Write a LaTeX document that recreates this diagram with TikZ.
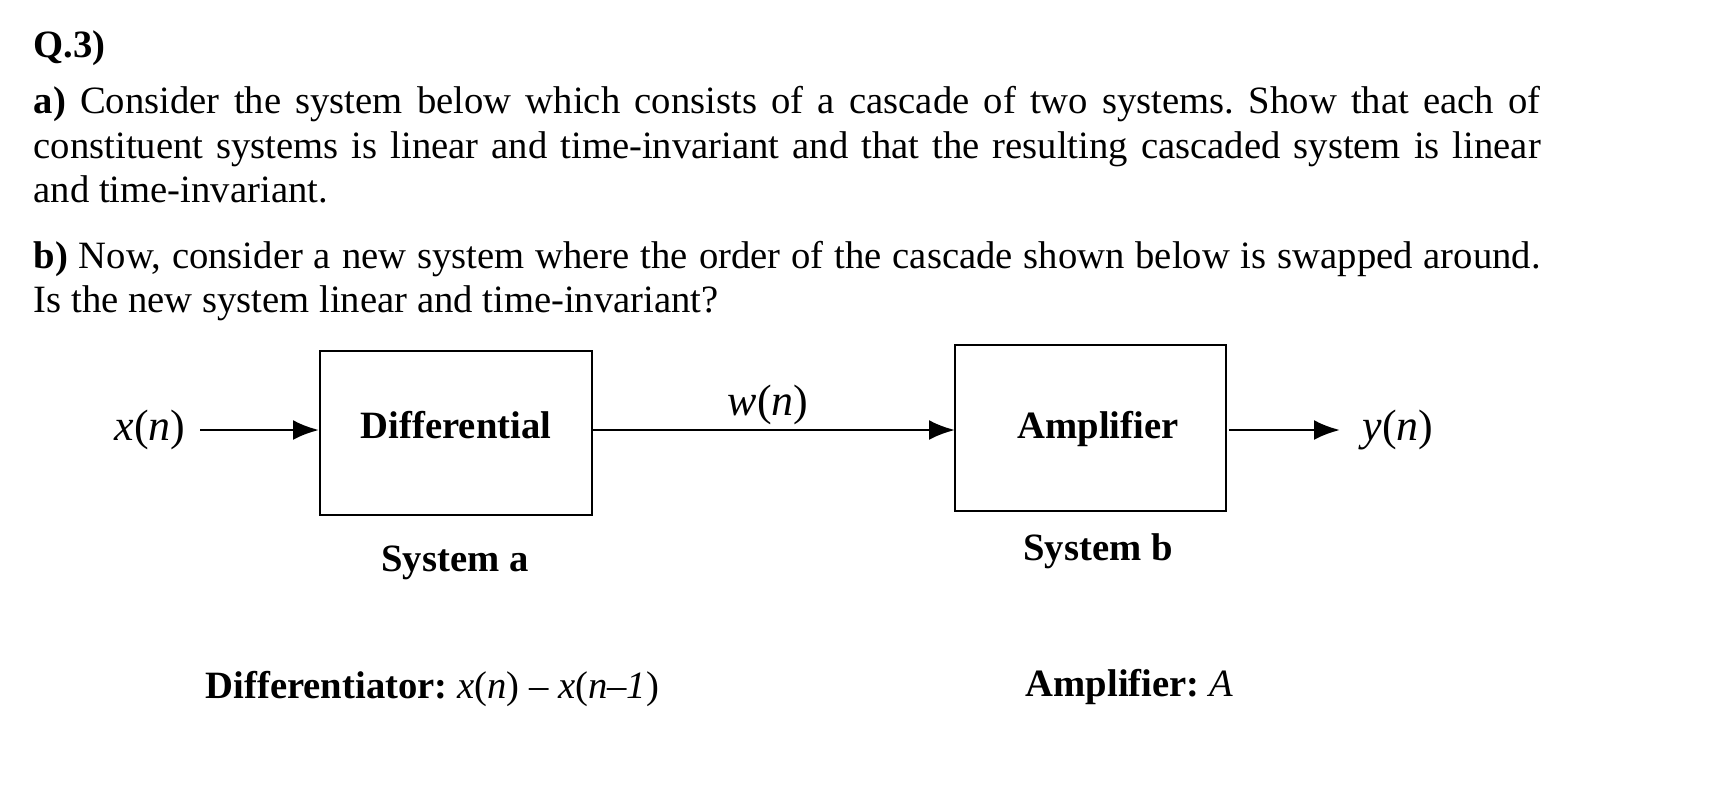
\documentclass[tikz,border=0pt]{standalone}
\usepackage{fontspec}
\setmainfont{Liberation Serif}
\usetikzlibrary{arrows.meta}
\begin{document}
\frenchspacing
\begin{tikzpicture}[x=0.1mm,y=-0.1mm,
  txt/.style={anchor=base west,inner sep=0pt,font=\fontsize{11pt}{13pt}\selectfont},
  lbl/.style={anchor=base,inner sep=0pt,font=\fontsize{11pt}{13pt}\selectfont},
  blk/.style={draw,line width=0.8pt},
  arr/.style={line width=0.8pt,-{Latex[length=2.6mm,width=2mm]}}]
\useasboundingbox (0,0) rectangle (1713,792);
\node[txt] (q) at (33,57) {\textbf{Q.3)}};
\node[txt] (a1) at (33,113) {\makebox[1507\dimexpr0.1mm\relax][s]{\textbf{a)} Consider the system below which consists of a cascade of two systems. Show that each of}};
\node[txt] (a2) at (33,158) {\makebox[1507\dimexpr0.1mm\relax][s]{constituent systems is linear and time-invariant and that the resulting cascaded system is linear}};
\node[txt] (a3) at (33,202) {and time-invariant.};
\node[txt] (b1) at (33,268) {\makebox[1507\dimexpr0.1mm\relax][s]{\textbf{b)} Now, consider a new system where the order of the cascade shown below is swapped around.}};
\node[txt] (b2) at (33,312) {Is the new system linear and time-invariant?};
\draw[blk] (320,351) rectangle (592,515);
\draw[blk] (955,345) rectangle (1226,511);
\node[lbl] (da) at (456,438) {\textbf{Differential}};
\node[lbl] (db) at (1098,438) {\textbf{Amplifier}};
\node[lbl] (xn) at (150,440) {\fontsize{12.5pt}{14pt}\selectfont\textit{x}(\textit{n})};
\node[lbl] (yn) at (1398,440) {\fontsize{12.5pt}{14pt}\selectfont\textit{y}(\textit{n})};
\node[lbl] (wn) at (768,415) {\fontsize{12.5pt}{14pt}\selectfont\textit{w}(\textit{n})};
\coordinate (p1) at (200,430); \coordinate (p2) at (319,430);
\coordinate (p3) at (592,430); \coordinate (p4) at (955,430);
\coordinate (p5) at (1229,430); \coordinate (p6) at (1340,430);
\draw[arr] (p1) -- (p2);
\draw[arr] (p3) -- (p4);
\draw[arr] (p5) -- (p6);
\node[lbl] (sa) at (455,571) {\textbf{System a}};
\node[lbl] (sb) at (1098,560) {\textbf{System b}};
\node[txt] (dd) at (205,698) {\textbf{Differentiator:} \textit{x}(\textit{n}) – \textit{x}(\textit{n}–\textit{1})};
\node[txt] (aa) at (1025,696) {\textbf{Amplifier:} \textit{A}};
\end{tikzpicture}
\end{document}
